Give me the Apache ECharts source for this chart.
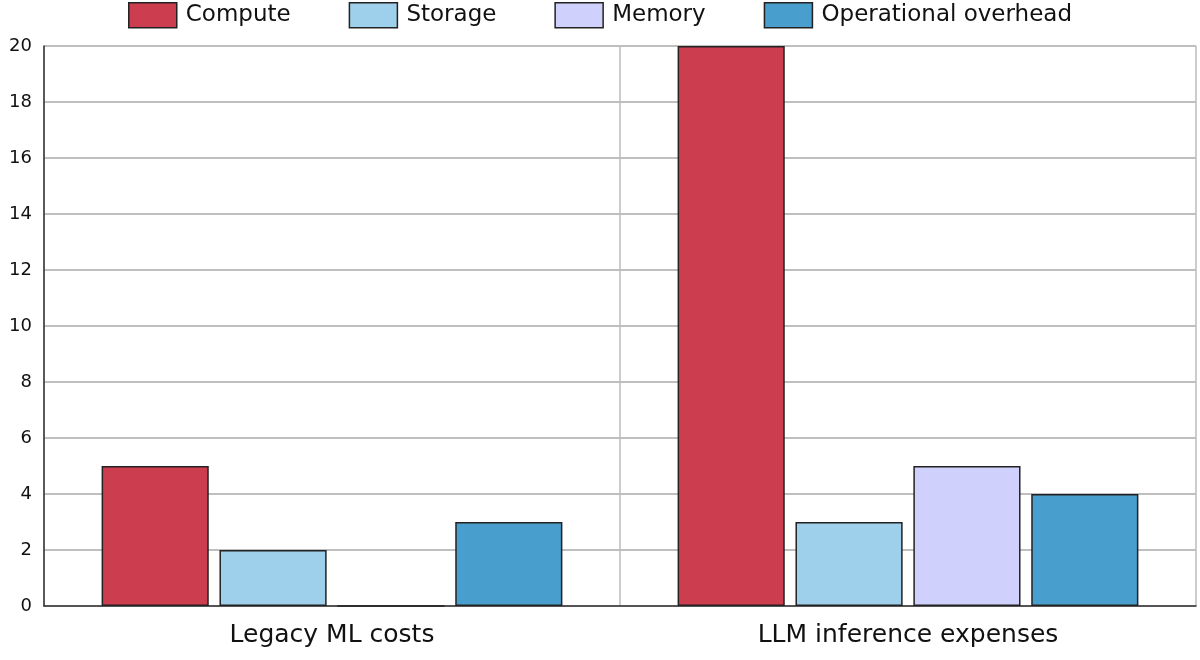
<!DOCTYPE html>
<html>
  <head>
    <meta http-equiv="Content-Type" content="text/html; charset=UTF-8">
    <title></title>
    <style type="text/css">
      * {margin: 0; padding: 0;}
      body {background: #fff;}
    </style>
  </head>
  <body>
    <div id="chart" style="width:1200px;height:660px"></div>

    <script src="https://cdn.jsdelivr.net/npm/echarts@6/dist/echarts.min.js" charset="utf-8"></script>
    <script type="text/javascript">
      var categories = ['Legacy ML costs', 'LLM inference expenses'];
      var compute = [5, 20];
      var storage = [2, 3];
      var memory = [0, 5];
      var operational = [3, 4];
      var yTicks = [0, 20, 2];   // min, max, interval

      var font = '"DejaVu Sans", "Open Sans", sans-serif';

      function bar(name, data, color) {
        return {
          name: name,
          type: 'bar',
          data: data,
          barGap: '10%',
          barCategoryGap: '20%',
          itemStyle: {color: color, borderColor: '#222', borderWidth: 1.5}
        };
      }

      var chart = echarts.init(document.getElementById('chart'));
      var option = {
        animation: false,
        textStyle: {fontFamily: font, color: '#111'},
        legend: {
          top: -3,
          left: 'center',
          itemWidth: 48,
          itemHeight: 25,
          itemGap: 58,
          icon: 'rect',
          itemStyle: {borderColor: '#222', borderWidth: 1.5},
          textStyle: {fontSize: 23, fontFamily: font, color: '#111', padding: [0, 0, 0, 4]},
          data: ['Compute', 'Storage', 'Memory', 'Operational overhead']
        },
        grid: {left: 44, right: 4, top: 46, bottom: 54, containLabel: false},
        xAxis: {
          type: 'category',
          data: categories,
          axisLine: {lineStyle: {color: '#333', width: 1.5}},
          axisTick: {show: false},
          axisLabel: {fontSize: 25, margin: 17, color: '#111'},
          splitLine: {show: true, lineStyle: {color: '#bbb', width: 1.5}}
        },
        yAxis: {
          type: 'value',
          min: yTicks[0],
          max: yTicks[1],
          interval: yTicks[2],
          axisLine: {show: true, lineStyle: {color: '#333', width: 1.5}},
          axisTick: {show: false},
          axisLabel: {fontSize: 18, margin: 12, color: '#111'},
          splitLine: {lineStyle: {color: '#aaa', width: 1.5}}
        },
        series: [
          bar('Compute', compute, '#cc3d50'),
          bar('Storage', storage, '#9ecfeb'),
          bar('Memory', memory, '#cfd0fb'),
          bar('Operational overhead', operational, '#489ecc')
        ]
      };
      chart.setOption(option);
    </script>
  </body>
</html>
